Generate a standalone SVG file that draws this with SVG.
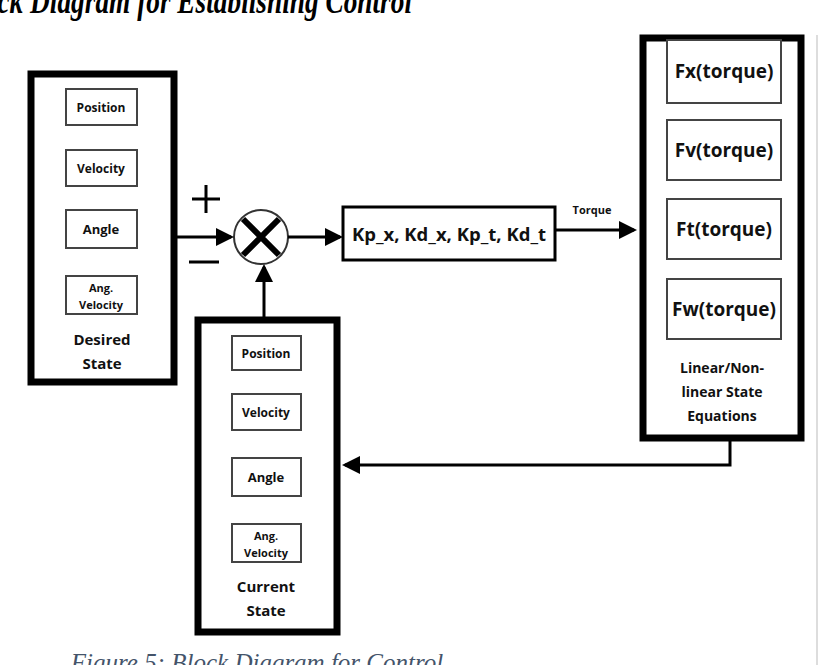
<svg xmlns="http://www.w3.org/2000/svg" width="825" height="665" viewBox="0 0 825 665">
<style>
.outer{fill:#fff;stroke:#000;stroke-width:7}
.inner{fill:#fff;stroke:#444;stroke-width:2}
.t{font-family:"Open Sans","DejaVu Sans",sans-serif;font-weight:bold;text-anchor:middle;fill:#111}
.ln{stroke:#000;stroke-width:3;fill:none}
</style>
<defs><marker id="a" markerWidth="6" markerHeight="6" refX="5" refY="3" orient="auto" markerUnits="strokeWidth"><path d="M0,0L6,3L0,6z" fill="#000"/></marker></defs>
<rect width="825" height="665" fill="#fff"/>
<line x1="817" y1="35" x2="817" y2="665" stroke="#ddd" stroke-width="2"/>
<text x="-42" y="13" textLength="454" lengthAdjust="spacingAndGlyphs" font-family="Liberation Serif,serif" font-weight="bold" font-style="italic" font-size="35">Block Diagram for Establishing Control</text>
<text x="257" y="671" text-anchor="middle" font-family="Liberation Serif,serif" font-style="italic" font-size="25" fill="#44546a">Figure 5: Block Diagram for Control</text>
<g id="desired">
<rect class="outer" x="31" y="74" width="143" height="308"/>
<rect class="inner" x="66" y="89" width="71" height="36"/><text class="t" x="101" y="112" font-size="12">Position</text>
<rect class="inner" x="66" y="150" width="71" height="36"/><text class="t" x="101" y="173" font-size="12">Velocity</text>
<rect class="inner" x="66" y="210" width="71" height="38"/><text class="t" x="101" y="234" font-size="13">Angle</text>
<rect class="inner" x="66" y="276" width="71" height="38"/><text class="t" x="101" y="292" font-size="11">Ang.</text><text class="t" x="101" y="309" font-size="11">Velocity</text>
<text class="t" x="102" y="345" font-size="15">Desired</text><text class="t" x="102" y="369" font-size="15">State</text>
</g>
<g id="sum">
<circle cx="261" cy="237" r="27" fill="#fff" stroke="#333" stroke-width="2"/>
<path d="M243,219L279,255M279,219L243,255" stroke="#000" stroke-width="6"/>
<path d="M192,199h28M206,185v28M189,262h30" stroke="#000" stroke-width="3"/>
</g>
<g id="gain">
<rect x="343" y="207" width="212" height="53" fill="#fff" stroke="#000" stroke-width="3"/>
<text class="t" x="449" y="241" font-size="18.5">Kp_x, Kd_x, Kp_t, Kd_t</text>
<text class="t" x="592" y="214" font-size="11">Torque</text>
</g>
<g id="equations">
<rect class="outer" x="643" y="38" width="158" height="400"/>
<rect class="inner" x="667" y="40" width="114" height="63"/><text class="t" x="724" y="78" font-size="19">Fx(torque)</text>
<rect class="inner" x="667" y="120" width="114" height="60"/><text class="t" x="724" y="157" font-size="19">Fv(torque)</text>
<rect class="inner" x="667" y="199" width="114" height="60"/><text class="t" x="724" y="236" font-size="19">Ft(torque)</text>
<rect class="inner" x="667" y="279" width="114" height="60"/><text class="t" x="724" y="316" font-size="19">Fw(torque)</text>
<text class="t" x="722" y="373" font-size="14">Linear/Non-</text><text class="t" x="722" y="397" font-size="14">linear State</text><text class="t" x="722" y="421" font-size="14">Equations</text>
</g>
<g id="current">
<rect class="outer" x="198" y="320" width="139" height="312"/>
<rect class="inner" x="232" y="336" width="69" height="34"/><text class="t" x="266" y="358" font-size="12">Position</text>
<rect class="inner" x="232" y="394" width="69" height="36"/><text class="t" x="266" y="417" font-size="12">Velocity</text>
<rect class="inner" x="232" y="458" width="69" height="38"/><text class="t" x="266" y="482" font-size="13">Angle</text>
<rect class="inner" x="232" y="524" width="69" height="38"/><text class="t" x="266" y="540" font-size="11">Ang.</text><text class="t" x="266" y="557" font-size="11">Velocity</text>
<text class="t" x="266" y="592" font-size="15">Current</text><text class="t" x="266" y="616" font-size="15">State</text>
</g>
<g id="connectors">
<path class="ln" d="M174,237H231" marker-end="url(#a)"/>
<path class="ln" d="M288,237H340" marker-end="url(#a)"/>
<path class="ln" d="M555,230H634" marker-end="url(#a)"/>
<path class="ln" d="M730,438V465H345" marker-end="url(#a)"/>
<path class="ln" d="M264,318V267" marker-end="url(#a)"/>
</g>
</svg>
